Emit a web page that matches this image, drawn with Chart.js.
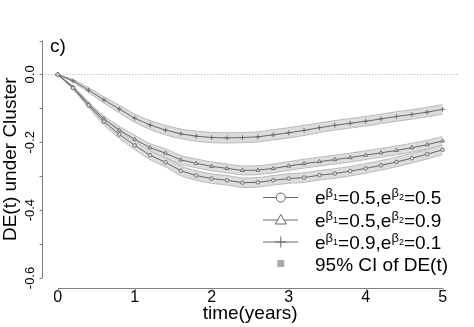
<!DOCTYPE html>
<html>
<head>
<meta charset="utf-8">
<script src="https://cdn.jsdelivr.net/npm/chart.js@4.4.1/dist/chart.umd.min.js"></script>
<style>
  html, body { margin: 0; padding: 0; background: #fff; }
  canvas { display: block; }
</style>
</head>
<body>
<canvas id="deChart" width="474" height="327"></canvas>
<script>
// tempi (anni), un marker ogni 0.2
const times = [0, 0.2, 0.4, 0.6, 0.8, 1.0, 1.2, 1.4, 1.6, 1.8, 2.0, 2.2, 2.4,
               2.6, 2.8, 3.0, 3.2, 3.4, 3.6, 3.8, 4.0, 4.2, 4.4, 4.6, 4.8, 5.0];

// DE(t)
const de_05_05 = [0, -0.040, -0.091, -0.139, -0.177, -0.209, -0.238, -0.259, -0.284, -0.298,
                  -0.307, -0.312, -0.319, -0.318, -0.312, -0.307, -0.304, -0.297, -0.292,
                  -0.285, -0.277, -0.268, -0.258, -0.247, -0.235, -0.222];
const de_05_09 = [0, -0.038, -0.088, -0.131, -0.164, -0.191, -0.216, -0.232, -0.252, -0.262,
                  -0.271, -0.277, -0.283, -0.282, -0.277, -0.270, -0.263, -0.257, -0.251,
                  -0.245, -0.238, -0.231, -0.224, -0.216, -0.207, -0.196];
const de_09_01 = [0, -0.019, -0.046, -0.075, -0.102, -0.129, -0.149, -0.164, -0.175, -0.182,
                  -0.186, -0.187, -0.186, -0.184, -0.178, -0.172, -0.165, -0.157, -0.150,
                  -0.144, -0.138, -0.131, -0.124, -0.118, -0.111, -0.103];

const ci_05_05 = [0, .004, .007, .009, .011, .012, .013, .013, .014, .014, .014, .014, .014,
                  .014, .014, .014, .014, .014, .014, .014, .014, .014, .014, .014, .014, .014];
const ci_05_09 = [0, .004, .007, .009, .011, .012, .012, .013, .013, .013, .013, .013, .013,
                  .013, .013, .013, .013, .013, .013, .013, .013, .013, .013, .013, .013, .013];
const ci_09_01 = [0, .004, .007, .009, .011, .012, .013, .014, .014, .015, .015, .015, .015,
                  .015, .015, .015, .015, .014, .014, .014, .014, .014, .014, .014, .014, .014];

const xTicks = [0, 1, 2, 3, 4, 5];
const xTickLabels = ['0', '1', '2', '3', '4', '5'];
const yTicks = [0.1, 0.0, -0.1, -0.2, -0.3, -0.4, -0.5, -0.6];
const yTickLabels = ['', '0.0', '', '-0.2', '', '-0.4', '', '-0.6'];

const panelLabel = 'c)';
const xTitle = 'time(years)';
const yTitle = 'DE(t) under Cluster';
const legendRows = [
    { b1: '0.5', b2: '0.5', marker: 'circle' },
    { b1: '0.5', b2: '0.9', marker: 'triangle' },
    { b1: '0.9', b2: '0.1', marker: 'cross' }
];
const ciLegendText = '95% CI of DE(t)';

const FONT = '"Liberation Sans", Arial, sans-serif';
const LINE_COL = '#666666';
const BAND_FILL = '#dddddd';
const BAND_EDGE = '#b8b8b8';
const AXIS_COL = '#808080';

const pts = (ys) => times.map((t, i) => ({ x: t, y: ys[i] }));
const bandPts = (ys, hw, sign) => times.map((t, i) => ({ x: t, y: ys[i] + sign * hw[i] }));

function lineDs(ys, style, r) {
    return {
        data: pts(ys),
        borderColor: LINE_COL,
        borderWidth: 1,
        pointStyle: style,
        pointRadius: r,
        pointBorderColor: LINE_COL,
        pointBorderWidth: 0.9,
        pointBackgroundColor: BAND_FILL,  // finto "gap" come type="b" di R
        fill: false,
        tension: 0
    };
}
function bandDs(ys, hw, sign, fill) {
    return {
        data: bandPts(ys, hw, sign),
        borderColor: BAND_EDGE,
        borderWidth: 1,
        backgroundColor: BAND_FILL,
        pointRadius: 0,
        fill: fill,
        tension: 0.3
    };
}

// le linee stanno sopra: Chart.js disegna l'indice 0 per ultimo
const datasets = [
    lineDs(de_05_05, 'circle', 1.8),
    lineDs(de_05_09, 'triangle', 2.2),
    lineDs(de_09_01, 'cross', 2.5),
    bandDs(de_05_05, ci_05_05, 1, false),
    bandDs(de_05_05, ci_05_05, -1, '-1'),
    bandDs(de_05_09, ci_05_09, 1, false),
    bandDs(de_05_09, ci_05_09, -1, '-1'),
    bandDs(de_09_01, ci_09_01, 1, false),
    bandDs(de_09_01, ci_09_01, -1, '-1')
];

function drawMarker(ctx, kind, x, y) {
    ctx.beginPath();
    if (kind === 'circle') {
        ctx.arc(x, y, 4.5, 0, Math.PI * 2);
    } else if (kind === 'triangle') {
        ctx.moveTo(x, y - 5.5);
        ctx.lineTo(x + 5.5, y + 4);
        ctx.lineTo(x - 5.5, y + 4);
        ctx.closePath();
    } else {
        ctx.moveTo(x, y - 5.5); ctx.lineTo(x, y + 5.5);
        ctx.moveTo(x - 5.5, y); ctx.lineTo(x + 5.5, y);
    }
    if (kind !== 'cross') { ctx.fillStyle = '#fff'; ctx.fill(); }
    ctx.stroke();
}

// testo con apice e^{beta_k}
function drawExpLabel(ctx, row, x, y) {
    const parts = [
        { t: 'e', size: 19, dy: 0 },
        { t: 'β', size: 13, dy: -7 },
        { t: '1', size: 9, dy: -4 },
        { t: '=' + row.b1 + ',e', size: 19, dy: 0 },
        { t: 'β', size: 13, dy: -7 },
        { t: '2', size: 9, dy: -4 },
        { t: '=' + row.b2, size: 19, dy: 0 }
    ];
    let cx = x;
    for (const p of parts) {
        ctx.font = p.size + 'px ' + FONT;
        ctx.fillText(p.t, cx, y + p.dy);
        cx += ctx.measureText(p.t).width;
    }
}

const rStyle = {
    id: 'rStyle',
    beforeDatasetsDraw(chart) {
        const { ctx, chartArea: a, scales: { y } } = chart;
        const y0 = Math.round(y.getPixelForValue(0)) + 0.5;
        ctx.save();
        ctx.strokeStyle = '#a8a8a8';
        ctx.lineWidth = 1;
        ctx.setLineDash([1, 2]);
        ctx.beginPath();
        ctx.moveTo(a.left, y0);
        ctx.lineTo(a.right, y0);
        ctx.stroke();
        ctx.restore();
    },
    afterDraw(chart) {
        const { ctx, chartArea: a, scales: { x, y } } = chart;
        ctx.save();
        ctx.strokeStyle = AXIS_COL;
        ctx.lineWidth = 1;

        // asse x staccato, da 0 a 5
        const xb = Math.round(a.bottom) + 0.5;
        ctx.beginPath();
        ctx.moveTo(x.getPixelForValue(xTicks[0]), xb);
        ctx.lineTo(x.getPixelForValue(xTicks[xTicks.length - 1]), xb);
        for (const v of xTicks) {
            const px = Math.round(x.getPixelForValue(v)) + 0.5;
            ctx.moveTo(px, xb); ctx.lineTo(px, xb + 3);
        }
        // asse y, da 0.1 a -0.6
        const yl = Math.round(a.left) + 0.5;
        ctx.moveTo(yl, y.getPixelForValue(yTicks[0]));
        ctx.lineTo(yl, y.getPixelForValue(yTicks[yTicks.length - 1]));
        for (const v of yTicks) {
            const py = Math.round(y.getPixelForValue(v)) + 0.5;
            ctx.moveTo(yl, py); ctx.lineTo(yl - 3, py);
        }
        ctx.stroke();

        ctx.fillStyle = '#000';
        ctx.textBaseline = 'alphabetic';
        ctx.font = '19px ' + FONT;
        ctx.fillText(panelLabel, 50, 52);

        // legenda in basso a destra
        const lx0 = 263, lx1 = 298, mx = 280.8, tx = 315;
        const base = [204, 226.5, 248.5, 270.5];
        ctx.strokeStyle = LINE_COL;
        legendRows.forEach((row, i) => {
            const cy = base[i] - 7;
            ctx.beginPath();
            ctx.moveTo(lx0, cy + 0.5); ctx.lineTo(lx1, cy + 0.5);
            ctx.stroke();
            drawMarker(ctx, row.marker, mx, cy + 0.5);
            ctx.fillStyle = '#000';
            drawExpLabel(ctx, row, tx, base[i]);
        });
        ctx.fillStyle = '#aaaaaa';
        ctx.fillRect(mx - 3.5, base[3] - 10.5, 7, 7);
        ctx.fillStyle = '#000';
        ctx.font = '19px ' + FONT;
        ctx.fillText(ciLegendText, tx, base[3]);
        ctx.restore();
    }
};

new Chart(document.getElementById('deChart'), {
    type: 'line',
    data: { datasets },
    plugins: [rStyle],
    options: {
        responsive: false,
        animation: false,
        layout: { padding: { top: 31, right: 16, left: 0, bottom: 0 } },
        plugins: { legend: { display: false }, tooltip: { enabled: false } },
        scales: {
            x: {
                type: 'linear',
                min: -0.2,
                max: 5.2,
                afterBuildTicks: (s) => { s.ticks = xTicks.map(v => ({ value: v })); },
                afterFit: (s) => { s.height = 39.5; },
                grid: { display: false, drawTicks: false },
                border: { display: false },
                ticks: {
                    padding: 0,
                    color: '#000',
                    font: { family: FONT, size: 16 },
                    callback: (v, i) => xTickLabels[i]
                },
                title: {
                    display: true,
                    text: xTitle,
                    color: '#000',
                    font: { family: FONT, size: 19 },
                    padding: { top: 0, bottom: 2 }
                }
            },
            y: {
                type: 'linear',
                min: -0.628,
                max: 0.128,
                afterBuildTicks: (s) => { s.ticks = yTicks.map(v => ({ value: v })); },
                afterFit: (s) => { s.width = 42.3; },
                grid: { display: false, drawTicks: false },
                border: { display: false },
                ticks: {
                    minRotation: 90,
                    maxRotation: 90,
                    crossAlign: 'center',
                    padding: 1,
                    color: '#000',
                    font: { family: FONT, size: 13 },
                    callback: (v, i) => yTickLabels[i]
                },
                title: {
                    display: true,
                    text: yTitle,
                    color: '#000',
                    font: { family: FONT, size: 19, lineHeight: 1.1 },
                    padding: 0
                }
            }
        }
    }
});
</script>
</body>
</html>
